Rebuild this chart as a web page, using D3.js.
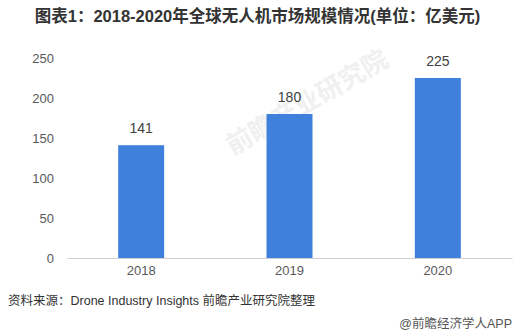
<!DOCTYPE html>
<html>
<head>
<meta charset="utf-8">
<script src="https://cdn.jsdelivr.net/npm/d3@7"></script>
<style>
  body { margin: 0; background: #fff; }
  text { font-family: "Liberation Sans", "Noto Sans CJK SC", sans-serif; }
</style>
</head>
<body>
<div id="chart"></div>
<script>
const years = ["2018", "2019", "2020"];
const values = [141, 180, 225];
const yTicks = [0, 50, 100, 150, 200, 250];

const w = 515, h = 336;
const margin = { left: 67, right: 3, top: 58, bottom: 78 };

const svg = d3.select("#chart").append("svg")
  .attr("width", w).attr("height", h);

const cjk = '"Microsoft YaHei", "Noto Sans CJK SC", sans-serif';

svg.append("text")
  .attr("x", w / 2).attr("y", 22)
  .attr("text-anchor", "middle")
  .attr("font-family", cjk)
  .attr("font-weight", "bold")
  .attr("font-size", 16.5)
  .attr("fill", "#333")
  .text("图表1：2018-2020年全球无人机市场规模情况(单位：亿美元)");

const x = d3.scaleBand()
  .domain(years)
  .range([margin.left, w - margin.right])
  .paddingInner(0.69).paddingOuter(0.345);

const y = d3.scaleLinear()
  .domain([0, 250])
  .range([h - margin.bottom, margin.top]);

// faint watermark
svg.append("text")
  .attr("transform", `translate(${x("2019") + 45},${y(185)}) rotate(-30)`)
  .attr("text-anchor", "middle")
  .attr("font-family", cjk)
  .attr("font-size", 26)
  .attr("font-weight", "bold")
  .attr("fill", "#f0f0f0")
  .text("前瞻产业研究院");

// y axis labels
svg.append("g")
  .selectAll("text")
  .data(yTicks)
  .join("text")
  .attr("x", 54)
  .attr("y", d => y(d))
  .attr("dy", "0.35em")
  .attr("text-anchor", "end")
  .attr("font-size", 13)
  .attr("fill", "#595959")
  .text(d => d);

svg.append("g")
  .selectAll("rect")
  .data(values)
  .join("rect")
  .attr("x", (d, i) => x(years[i]))
  .attr("y", d => y(d))
  .attr("width", x.bandwidth())
  .attr("height", d => y(0) - y(d))
  .attr("fill", "#3f80dc");

svg.append("g")
  .selectAll("text")
  .data(values)
  .join("text")
  .attr("x", (d, i) => x(years[i]) + x.bandwidth() / 2)
  .attr("y", d => y(d) - 12)
  .attr("text-anchor", "middle")
  .attr("font-size", 14)
  .attr("fill", "#404040")
  .text(d => d);

// x axis
const xAxis = svg.append("g")
  .attr("transform", `translate(0,${y(0)})`)
  .call(d3.axisBottom(x).tickSize(0).tickPadding(8));
xAxis.select(".domain").attr("stroke", "#d0d0d0");
xAxis.selectAll("text")
  .attr("font-family", '"Liberation Sans", sans-serif')
  .attr("font-size", 13)
  .attr("fill", "#595959");

svg.append("text")
  .attr("x", 8).attr("y", 305)
  .attr("font-family", cjk)
  .attr("font-size", 12.5)
  .attr("fill", "#333")
  .text("资料来源：Drone Industry Insights 前瞻产业研究院整理");

svg.append("text")
  .attr("x", 512).attr("y", 328)
  .attr("text-anchor", "end")
  .attr("font-family", cjk)
  .attr("font-size", 12.5)
  .attr("fill", "#555")
  .text("@前瞻经济学人APP");
</script>
</body>
</html>
